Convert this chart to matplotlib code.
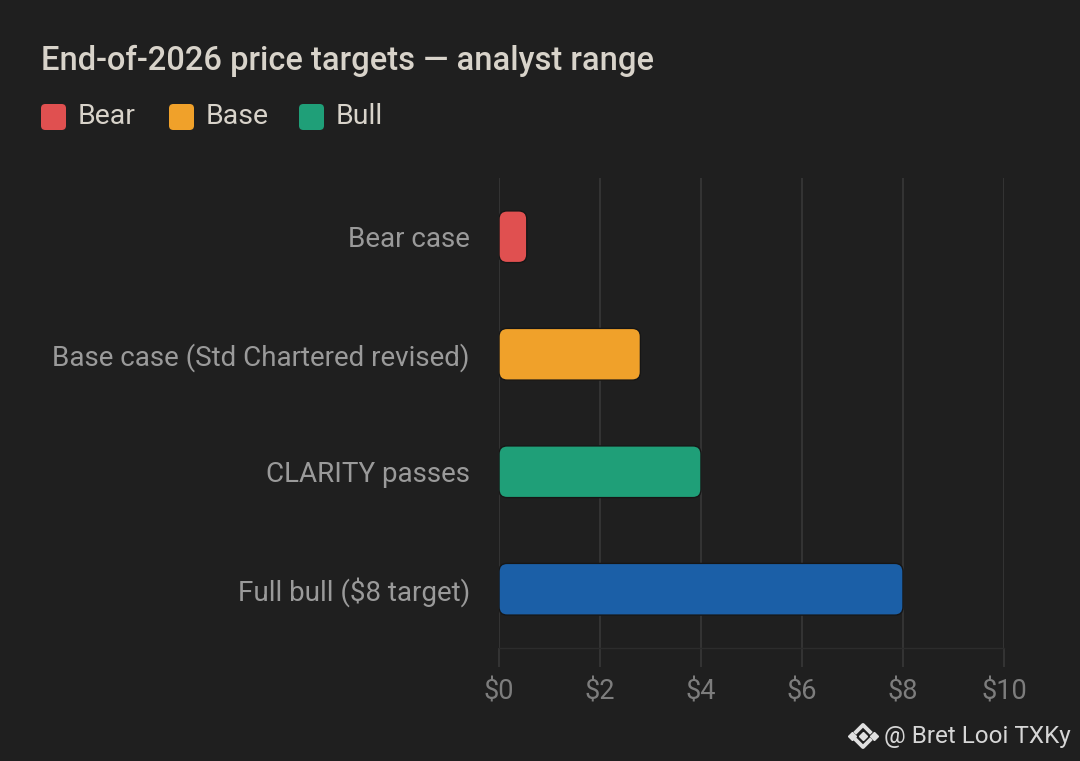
import matplotlib
matplotlib.use("Agg")
import matplotlib.pyplot as plt
from matplotlib.patches import FancyBboxPatch

plt.rcParams['font.family'] = ['Roboto', 'DejaVu Sans']

# data
scenarios = ["Bear case", "Base case (Std Chartered revised)", "CLARITY passes", "Full bull ($8 target)"]
targets = [0.55, 2.8, 4.0, 8.0]
bar_colors = ["#e05050", "#f0a12a", "#1f9f78", "#1b5fa7"]
legend_names = ["Bear", "Base", "Bull"]
legend_colors = ["#e05050", "#f0a12a", "#1f9f78"]
xticks = [0, 2, 4, 6, 8, 10]
xtick_labels = ["$0", "$2", "$4", "$6", "$8", "$10"]

BG = "#1f1f1f"
GRID = "#333333"

fig = plt.figure(figsize=(10.8, 7.61), dpi=100, facecolor=BG)
ax = fig.add_axes([499 / 1080, 1 - 648 / 761, 505 / 1080, 470 / 761])
ax.set_facecolor(BG)

ypos = list(range(len(scenarios)))
bars = ax.barh(ypos, targets, height=0.44, color=bar_colors)

# swap the plain rectangles for rounded ones
for rect, c in zip(bars.patches, bar_colors):
    rect.set_visible(False)
    x0, y0 = rect.get_x(), rect.get_y()
    w, h = rect.get_width(), rect.get_height()
    ax.add_patch(FancyBboxPatch((x0, y0), w, h,
                                boxstyle="round,pad=0,rounding_size=0.16",
                                mutation_aspect=50.5 / 117.5,
                                facecolor=c, edgecolor="#161616", linewidth=1.0,
                                zorder=3))

ax.set_xlim(0, 10)
ax.set_ylim(3.5, -0.5)
ax.set_xticks(xticks)
ax.set_xticklabels(xtick_labels)
ax.set_yticks(ypos)
ax.set_yticklabels(scenarios)

ax.grid(axis="x", color=GRID, linewidth=1.5, zorder=0)
ax.set_axisbelow(True)
for s in ["top", "right", "left"]:
    ax.spines[s].set_visible(False)
ax.spines["bottom"].set_color("#2c2c2c")
ax.spines["bottom"].set_linewidth(1.0)

ax.tick_params(axis="x", colors=GRID, width=1.5, length=14, pad=8,
               labelsize=19.5, labelcolor="#7d7d7d")
ax.tick_params(axis="y", length=0, pad=21, labelsize=20, labelcolor="#9a9a9a")

# title
fig.text(41 / 1080, 1 - 61 / 761, "End-of-2026 price targets \u2014 analyst range",
         fontsize=23.5, color="#d8d3ca", va="center", ha="left", fontweight="medium")

# legend with rounded swatches
leg_x = [41, 169, 299]
for lx, name, c in zip(leg_x, legend_names, legend_colors):
    fig.patches.append(FancyBboxPatch((lx / 1080, 1 - 130 / 761), 25 / 1080, 26 / 761,
                                      boxstyle="round,pad=0,rounding_size=0.004",
                                      mutation_aspect=1080 / 761,
                                      transform=fig.transFigure, facecolor=c,
                                      edgecolor="none"))
    fig.text((lx + 37) / 1080, 1 - 117 / 761, name, fontsize=20.5, color="#d8d3ca",
             va="center", ha="left")

# watermark with a rough binance-style mark
wx, wy = 863, 736
mark = "#e0e0e0"
def fpt(px, py):
    return px / 1080, 1 - py / 761
for sx, sy in [(-11, 0), (11, 0), (0, 0)]:
    mx, my = fpt(wx + sx, wy + sy)
    fig.lines.append(plt.Line2D([mx], [my], marker="D", markersize=4,
                                color=mark, transform=fig.transFigure))
for sgn in (-1, 1):
    xs, ys = zip(*[fpt(wx - 7, wy + sgn * 4), fpt(wx, wy + sgn * 11), fpt(wx + 7, wy + sgn * 4)])
    fig.lines.append(plt.Line2D(xs, ys, color=mark, linewidth=2.8,
                                transform=fig.transFigure))
fig.text(884 / 1080, 1 - wy / 761, "@ Bret Looi TXKy", fontsize=17.5, color="#d6d6d6",
         va="center", ha="left")

fig.savefig("out.png", dpi=100, facecolor=BG)
